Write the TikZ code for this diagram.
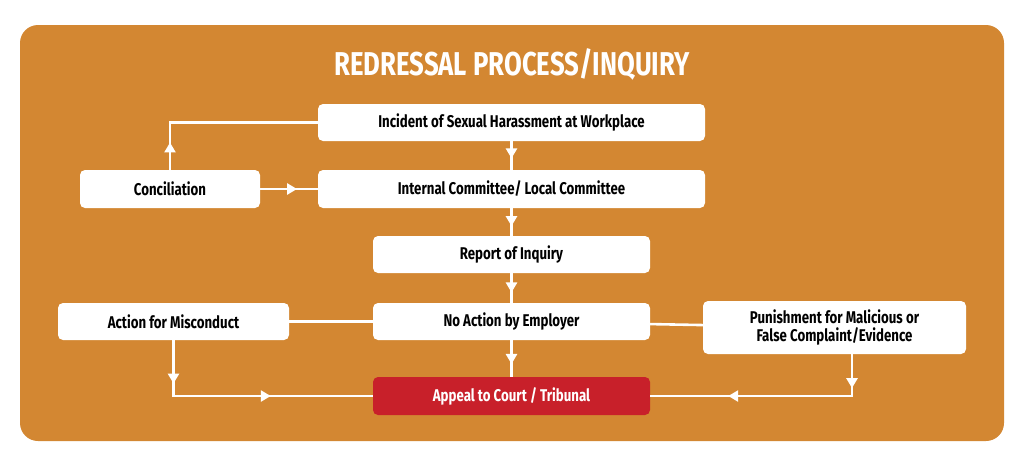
\documentclass[tikz,border=0pt]{standalone}
\usepackage{fontspec}
\setmainfont{Fira Sans}[FakeStretch=0.78]
\usetikzlibrary{decorations.markings,arrows.meta}
\definecolor{bgor}{HTML}{D38732}
\definecolor{apred}{HTML}{C8202A}
\begin{document}
\begin{tikzpicture}[x=1pt,y=-1pt,
 box/.style={draw=none,fill=white,rounded corners=5pt,inner sep=0pt,font=\fontsize{17}{17}\selectfont\bfseries,align=center},
 ln/.style={white,line width=2.6pt},
 marr/.style={postaction={decorate,decoration={markings,mark=at position #1 with {\arrow{Triangle[length=10pt,width=11pt]}}}}}]
\useasboundingbox (0,0) rectangle (1024,466);
\fill[bgor,rounded corners=18pt] (20,25) rectangle (1004,441);
\node[white,font=\fontsize{33}{33}\selectfont\bfseries] (title) at (512,64) {REDRESSAL PROCESS/INQUIRY};
\node[box,minimum width=387pt,minimum height=37pt] (inc) at (511.5,122.5) {Incident of Sexual Harassment at Workplace};
\node[box,minimum width=387pt,minimum height=38pt] (ic) at (511.5,189) {Internal Committee/ Local Committee};
\node[box,minimum width=180pt,minimum height=38pt] (con) at (170,189) {Conciliation};
\node[box,minimum width=277pt,minimum height=37pt] (rep) at (511.5,254.5) {Report of Inquiry};
\node[box,minimum width=277pt,minimum height=37pt] (noa) at (511.5,321.5) {No Action by Employer};
\node[box,minimum width=231pt,minimum height=37pt] (act) at (173.5,321.5) {Action for Misconduct};
\node[box,minimum width=263pt,minimum height=53pt,font=\fontsize{17}{18}\selectfont\bfseries] (pun) at (834.5,327.5) {Punishment for Malicious or\\False Complaint/Evidence};
\node[box,fill=apred,text=white,minimum width=277pt,minimum height=38pt] (app) at (511.5,396) {Appeal to Court / Tribunal};
\draw[ln,marr=0.6] (inc) -- (ic);
\draw[ln,marr=0.65] (ic) -- (rep);
\draw[ln,marr=0.65] (rep) -- (noa);
\draw[ln,marr=0.65] (noa) -- (app);
\draw[ln,marr=0.64] (con) -- (ic);
\draw[ln] (act) -- (noa);
\draw[ln] (noa) -- (pun);
\draw[ln,marr=0.14] (con.north) |- (inc.west);
\draw[ln,marr=0.17,marr=0.6] (act.south) |- (app.west);
\coordinate (pb) at (852,354);
\draw[ln,marr=0.14,marr=0.68] (pb) |- (app.east);
\end{tikzpicture}
\end{document}
